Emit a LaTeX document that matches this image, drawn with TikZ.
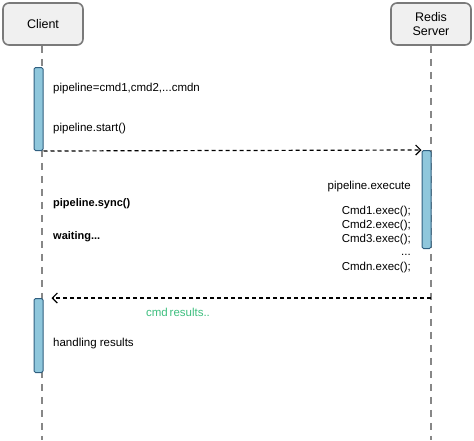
\documentclass[tikz,border=0pt]{standalone}
\usepackage{fontspec}
\setmainfont{Liberation Sans}
\usepackage{xcolor}
\usepackage{tikz}
\usetikzlibrary{positioning}
\usetikzlibrary{arrows.meta}
\definecolor{boxfill}{HTML}{F0F0F0}
\definecolor{boxline}{HTML}{7A7A7A}
\definecolor{actfill}{HTML}{8FC7DC}
\definecolor{actline}{HTML}{2F5F80}
\definecolor{resgreen}{HTML}{3DBE7E}

\begin{document}
\begin{tikzpicture}[x=1pt,y=-1pt,
    actor/.style={draw=boxline,fill=boxfill,line width=1.6pt,rounded corners=6pt,
        minimum width=80pt,minimum height=42pt,align=center,font=\fontsize{12.5}{14.5}\selectfont},
    lifeline/.style={draw=boxline!90,line width=2pt,dash pattern=on 7pt off 6pt},
    actbar/.style={draw=actline,fill=actfill,line width=1pt,rounded corners=1.5pt,
        minimum width=9pt,inner sep=0pt,anchor=north},
    msg/.style={draw=black,line width=1.2pt,dash pattern=on 4pt off 3pt,-{Straight Barb[length=5pt,width=10pt]}},
    note/.style={font=\fontsize{11.5}{13}\selectfont,inner sep=0pt},
    boldnote/.style={note,font=\fontsize{11}{13}\selectfont\bfseries}]
            \useasboundingbox (0,0) rectangle (474,440);
            % Lifelines
            \node[actor] (client) at (43,24) {Client};
            \node[actor] (server) at (431,24) {Redis\\Server};
            \coordinate (clientend) at (42,440);
            \coordinate (serverend) at (431,440);
            \draw[lifeline] (client.south -| clientend) -- (clientend);
            \draw[lifeline] (server.south -| serverend) -- (serverend);
            % Activation bars
            \node[actbar,minimum height=83pt] (act1) at (38.5,67) {};
            \node[actbar,minimum height=98pt] (act2) at (426.5,150) {};
            \node[actbar,minimum height=74pt] (act3) at (38.5,298) {};
            % Client side texts
            \node[note,anchor=west] (def) at (53,89) {pipeline=cmd1,cmd2,...cmdn};
            \node[note,anchor=west] (start) at (53,129) {pipeline.start()};
            \node[boldnote,anchor=west] (sync) at (53,204) {pipeline.sync()};
            \node[boldnote,anchor=west] (wait) at (53,237) {waiting...};
            \node[note,anchor=west] (handle) at (53,344) {handling results};
            % Server side texts
            \node[note,anchor=east] (exec) at (411,187) {pipeline.execute};
            \node[note,anchor=east] (c1) at (411,212) {Cmd1.exec();};
            \node[note,anchor=east] (c2) at (411,226) {Cmd2.exec();};
            \node[note,anchor=east] (c3) at (411,240) {Cmd3.exec();};
            \node[note,anchor=east] (dots) at (411,255) {...};
            \node[note,anchor=east] (cn) at (411,268) {Cmdn.exec();};
            % Messages
            \draw[msg] (act1.south east) -- (act2.north west);
            \coordinate (retstart) at (431,298);
            \draw[msg] (retstart) -- ([xshift=8pt]act3.north east);
            \node[note,text=resgreen] (res) at (178,312) {cmd\,results..};
\end{tikzpicture}
\end{document}
